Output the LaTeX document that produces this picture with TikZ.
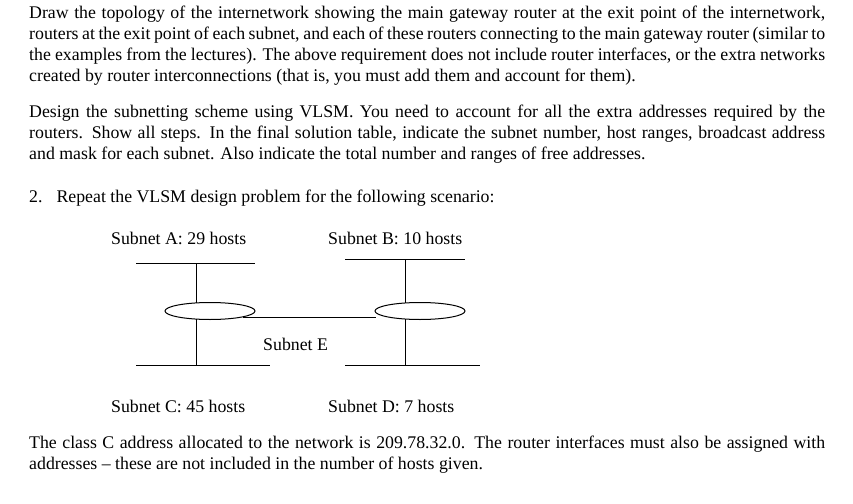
\documentclass[tikz,border=0pt]{standalone}
\usepackage{fontspec}
\setmainfont{Liberation Serif}
\usetikzlibrary{shapes.geometric,calc}
\tikzset{para/.style={anchor=north west,inner sep=0pt,text width=796pt,align=justify,font=\fontsize{17.8}{21}\selectfont},
lbl/.style={anchor=west,inner sep=0pt,font=\fontsize{17.8}{21}\selectfont},
wire/.style={line width=1pt},
rtr/.style={draw,ellipse,line width=1pt,minimum width=90pt,minimum height=17pt,inner sep=0pt}}
\begin{document}
\begin{tikzpicture}[x=1pt,y=-1pt]
\useasboundingbox (0,0) rectangle (853,503);
\node[para] (p1) at (29,6) {Draw the topology of the internetwork showing the main gateway router at the exit point of the internetwork, routers at the exit point of each subnet, and each of these routers connecting to the main gateway router (similar to the examples from the lectures). The above requirement does not include router interfaces, or the extra networks created by router interconnections (that is, you must add them and account for them).};
\node[para] (p2) at (29,105) {Design the subnetting scheme using VLSM. You need to account for all the extra addresses required by the routers. Show all steps. In the final solution table, indicate the subnet number, host ranges, broadcast address and mask for each subnet. Also indicate the total number and ranges of free addresses.};
\node[lbl] (q) at (29,198) {2.\hspace{14pt}Repeat the VLSM design problem for the following scenario:};
\node[lbl] (la) at (111,238) {Subnet A: 29 hosts};
\node[lbl] (lb) at (328,238) {Subnet B: 10 hosts};
\node[lbl] (lc) at (111,406) {Subnet C: 45 hosts};
\node[lbl] (ld) at (328,406) {Subnet D: 7 hosts};
\node[lbl] (le) at (263,344) {Subnet E};
\node[para] (p3) at (29,436) {The class C address allocated to the network is 209.78.32.0. The router interfaces must also be assigned with addresses -- these are not included in the number of hosts given.};
\coordinate (a1) at (136,263); \coordinate (a2) at (255,263);
\coordinate (c1) at (136,365); \coordinate (c2) at (270,365);
\coordinate (b1) at (345,259); \coordinate (b2) at (465,259);
\coordinate (d1) at (345,365); \coordinate (d2) at (480,365);
\draw[wire] (a1) -- (a2); \draw[wire] (c1) -- (c2);
\draw[wire] (b1) -- (b2); \draw[wire] (d1) -- (d2);
\node[rtr] (r1) at (210,311) {};
\node[rtr] (r2) at (420,311) {};
\coordinate (at) at (196,263); \coordinate (ct) at (196,365);
\coordinate (bt) at (405,259); \coordinate (dt) at (405,365);
\draw[wire] (at) -- (196,303); \draw[wire] (196,319) -- (ct);
\draw[wire] (bt) -- (405,303); \draw[wire] (405,319) -- (dt);
\coordinate (e1) at (243,317); \coordinate (e2) at (376,317);
\draw[wire] (e1) -- (e2);
\end{tikzpicture}
\end{document}
